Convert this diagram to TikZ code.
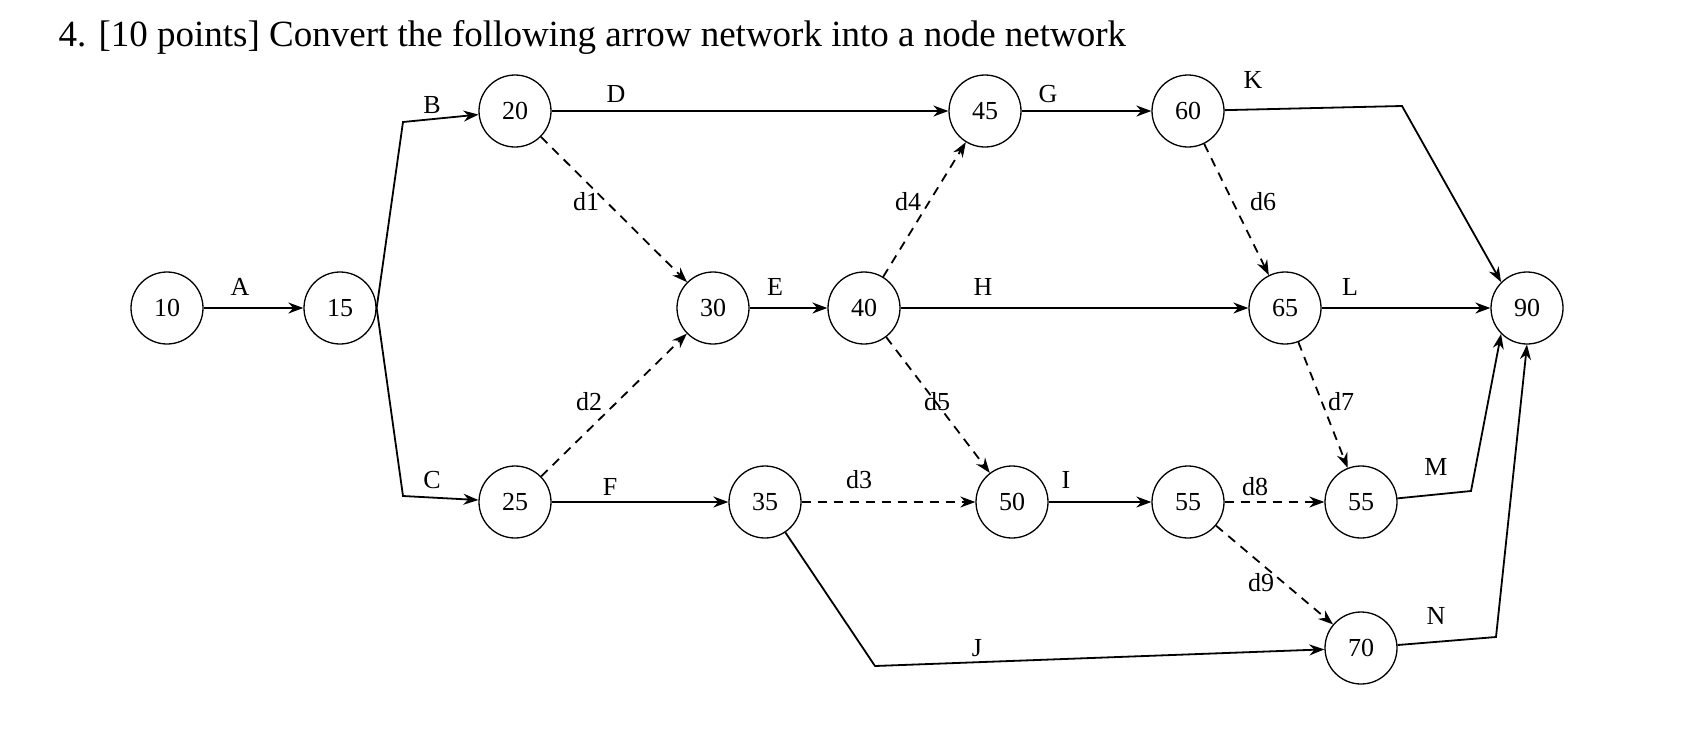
\documentclass[tikz,border=0pt]{standalone}
\usepackage{fontspec}
\setmainfont{Liberation Serif}
\usetikzlibrary{arrows.meta}

\begin{document}
\begin{tikzpicture}[x=1pt, y=-1pt,
    ev/.style={draw, circle, line width=1.3pt, minimum size=72pt, inner sep=0pt, font=\fontsize{26}{28}\selectfont},
    act/.style={line width=1.8pt, -{Stealth[length=15pt, width=11pt]}},
    dum/.style={act, dash pattern=on 9pt off 7pt},
    lbl/.style={font=\fontsize{26}{28}\selectfont}]

        \useasboundingbox (0,0) rectangle (1686,734);
        \node[anchor=west, font=\fontsize{37}{40}\selectfont] (title) at (55,37) {4. [10 points] Convert the following arrow network into a node network};

        % Events
        \node[ev] (n10) at (167,308) {10};
        \node[ev] (n15) at (340,308) {15};
        \node[ev] (n20) at (515,111) {20};
        \node[ev] (n25) at (515,502) {25};
        \node[ev] (n30) at (713,308) {30};
        \node[ev] (n40) at (864,308) {40};
        \node[ev] (n45) at (985,111) {45};
        \node[ev] (n60) at (1188,111) {60};
        \node[ev] (n65) at (1285,308) {65};
        \node[ev] (n90) at (1527,308) {90};
        \node[ev] (n35) at (765,502) {35};
        \node[ev] (n50) at (1012,502) {50};
        \node[ev] (n55a) at (1188,502) {55};
        \node[ev] (n55b) at (1361,502) {55};
        \node[ev] (n70) at (1361,648) {70};

        % Corners of the bent arrows
        \coordinate (cB) at (403,122);
        \coordinate (cC) at (403,496);
        \coordinate (cJ) at (875,666);
        \coordinate (cK) at (1402,106);
        \coordinate (cM) at (1471,491);
        \coordinate (cN) at (1496,637);

        % Activities
        \draw[act] (n10) -- (n15);
        \draw[act] (n15.east) -- (cB) -- (n20);
        \draw[act] (n15.east) -- (cC) -- (n25);
        \draw[act] (n20) -- (n45);
        \draw[act] (n30) -- (n40);
        \draw[act] (n25) -- (n35);
        \draw[act] (n35) -- (cJ) -- (n70);
        \draw[act] (n40) -- (n65);
        \draw[act] (n45) -- (n60);
        \draw[act] (n60) -- (cK) -- (n90.north west);
        \draw[act] (n65) -- (n90);
        \draw[act] (n50) -- (n55a);
        \draw[act] (n55b) -- (cM) -- (n90.south west);
        \draw[act] (n70) -- (cN) -- (n90.south);

        % Dummies
        \draw[dum] (n20) -- (n30);
        \draw[dum] (n25) -- (n30);
        \draw[dum] (n35) -- (n50);
        \draw[dum] (n40) -- (n45);
        \draw[dum] (n40) -- (n50);
        \draw[dum] (n60) -- (n65);
        \draw[dum] (n65) -- (n55b);
        \draw[dum] (n55a) -- (n55b);
        \draw[dum] (n55a) -- (n70);

        % Labels
        \node[lbl] (lA) at (240,287) {A};
        \node[lbl] (lB) at (432,105) {B};
        \node[lbl] (lC) at (432,480) {C};
        \node[lbl] (lD) at (616,94) {D};
        \node[lbl] (ld1) at (586,202) {d1};
        \node[lbl] (ld2) at (589,402) {d2};
        \node[lbl] (lE) at (775,287) {E};
        \node[lbl] (lF) at (610,487) {F};
        \node[lbl] (ld3) at (859,480) {d3};
        \node[lbl] (lJ) at (977,648) {J};
        \node[lbl] (ld4) at (908,202) {d4};
        \node[lbl] (lH) at (983,287) {H};
        \node[lbl] (ld5) at (937,402) {d5};
        \node[lbl] (lG) at (1048,94) {G};
        \node[lbl] (lK) at (1253,80) {K};
        \node[lbl] (ld6) at (1263,202) {d6};
        \node[lbl] (lL) at (1350,287) {L};
        \node[lbl] (ld7) at (1341,402) {d7};
        \node[lbl] (lI) at (1066,480) {I};
        \node[lbl] (ld8) at (1255,487) {d8};
        \node[lbl] (ld9) at (1261,583) {d9};
        \node[lbl] (lM) at (1436,467) {M};
        \node[lbl] (lN) at (1436,616) {N};

    \end{tikzpicture}
\end{document}
